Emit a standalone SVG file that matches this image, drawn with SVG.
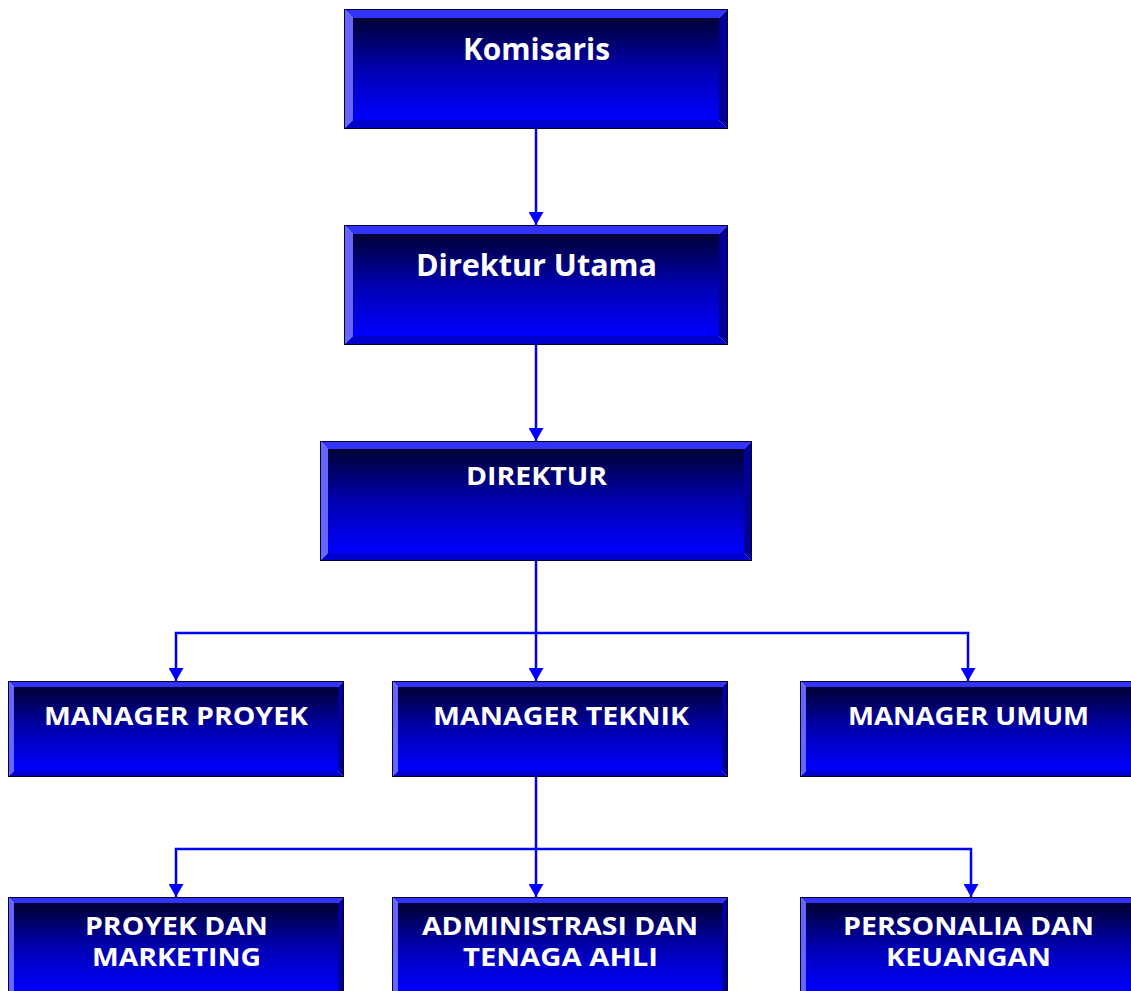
<svg xmlns="http://www.w3.org/2000/svg" width="1131" height="991" viewBox="0 0 1131 991">
<defs>
<linearGradient id="g" x1="0" y1="0" x2="0" y2="1">
<stop offset="0" stop-color="#000033"/>
<stop offset="0.5" stop-color="#0000b0"/>
<stop offset="1" stop-color="#0000ff"/>
</linearGradient>
<marker id="ah" markerWidth="14" markerHeight="15" refX="13" refY="7.5" orient="auto-start-reverse" markerUnits="userSpaceOnUse" viewBox="0 0 13 15">
<path d="M0,0 L13,7.5 L0,15 Z" fill="#0000ff"/>
</marker>
</defs>
<style>
.l{fill:#6666ff}.tp{fill:#3333ff}.r{fill:#000099}.b{fill:#0000cc}
.in{fill:url(#g)}
.o{fill:none;stroke:#000033;stroke-width:1}
.tx{font-family:"Open Sans",Lato,sans-serif;font-weight:bold;fill:#ffffff;text-anchor:middle}
.c{fill:none;stroke:#0000ff;stroke-width:2.5}
</style>
<rect width="1131" height="991" fill="#ffffff"/>
<g id="connectors">
<line class="c" x1="536" y1="129" x2="536" y2="225" marker-end="url(#ah)"/>
<line class="c" x1="536" y1="345" x2="536" y2="441" marker-end="url(#ah)"/>
<line class="c" x1="536" y1="561" x2="536" y2="681" marker-end="url(#ah)"/>
<polyline class="c" points="176,681 176,633 968,633 968,681" marker-start="url(#ah)" marker-end="url(#ah)"/>
<line class="c" x1="536" y1="777" x2="536" y2="897" marker-end="url(#ah)"/>
<polyline class="c" points="176,897 176,849 971,849 971,897" marker-start="url(#ah)" marker-end="url(#ah)"/>
</g>
<g id="komisaris">
<rect class="in" x="353" y="18" width="366" height="102"/>
<polygon class="tp" points="344,9 728,9 719,18 353,18"/>
<polygon class="l" points="344,9 353,18 353,120 344,129"/>
<polygon class="r" points="728,9 728,129 719,120 719,18"/>
<polygon class="b" points="344,129 728,129 719,120 353,120"/>
<rect class="o" x="344.5" y="9.5" width="383" height="119"/>
<text class="tx" x="536.5" y="60" font-size="30" textLength="147" lengthAdjust="spacingAndGlyphs">Komisaris</text>
</g>
<g id="direktur-utama">
<rect class="in" x="353" y="234" width="366" height="102"/>
<polygon class="tp" points="344,225 728,225 719,234 353,234"/>
<polygon class="l" points="344,225 353,234 353,336 344,345"/>
<polygon class="r" points="728,225 728,345 719,336 719,234"/>
<polygon class="b" points="344,345 728,345 719,336 353,336"/>
<rect class="o" x="344.5" y="225.5" width="383" height="119"/>
<text class="tx" x="536.5" y="276" font-size="30" textLength="241" lengthAdjust="spacingAndGlyphs">Direktur Utama</text>
</g>
<g id="direktur">
<rect class="in" x="328" y="449" width="416" height="104"/>
<polygon class="tp" points="320,441 752,441 744,449 328,449"/>
<polygon class="l" points="320,441 328,449 328,553 320,561"/>
<polygon class="r" points="752,441 752,561 744,553 744,449"/>
<polygon class="b" points="320,561 752,561 744,553 328,553"/>
<rect class="o" x="320.5" y="441.5" width="431" height="119"/>
<text class="tx" x="536.5" y="485" font-size="25" textLength="141" lengthAdjust="spacingAndGlyphs">DIREKTUR</text>
</g>
<g id="manager-proyek">
<rect class="in" x="14" y="687" width="324" height="84"/>
<polygon class="tp" points="8,681 344,681 338,687 14,687"/>
<polygon class="l" points="8,681 14,687 14,771 8,777"/>
<polygon class="r" points="344,681 344,777 338,771 338,687"/>
<polygon class="b" points="8,777 344,777 338,771 14,771"/>
<rect class="o" x="8.5" y="681.5" width="335" height="95"/>
<text class="tx" x="176" y="725" font-size="25" textLength="264" lengthAdjust="spacingAndGlyphs">MANAGER PROYEK</text>
</g>
<g id="manager-teknik">
<rect class="in" x="398" y="687" width="324" height="84"/>
<polygon class="tp" points="392,681 728,681 722,687 398,687"/>
<polygon class="l" points="392,681 398,687 398,771 392,777"/>
<polygon class="r" points="728,681 728,777 722,771 722,687"/>
<polygon class="b" points="392,777 728,777 722,771 398,771"/>
<rect class="o" x="392.5" y="681.5" width="335" height="95"/>
<text class="tx" x="561" y="725" font-size="25" textLength="256" lengthAdjust="spacingAndGlyphs">MANAGER TEKNIK</text>
</g>
<g id="manager-umum">
<rect class="in" x="806" y="687" width="330" height="84"/>
<polygon class="tp" points="800,681 1142,681 1136,687 806,687"/>
<polygon class="l" points="800,681 806,687 806,771 800,777"/>
<polygon class="b" points="800,777 1142,777 1136,771 806,771"/>
<rect class="o" x="800.5" y="681.5" width="341" height="95"/>
<text class="tx" x="968.5" y="725" font-size="25" textLength="241" lengthAdjust="spacingAndGlyphs">MANAGER UMUM</text>
</g>
<g id="proyek-marketing">
<rect class="in" x="14" y="903" width="324" height="88"/>
<polygon class="tp" points="8,897 344,897 338,903 14,903"/>
<polygon class="l" points="8,897 14,903 14,991 8,991"/>
<polygon class="r" points="344,897 344,991 338,991 338,903"/>
<rect class="o" x="8.5" y="897.5" width="335" height="100"/>
<text class="tx" x="176.5" y="935" font-size="25" textLength="183" lengthAdjust="spacingAndGlyphs">PROYEK DAN</text>
<text class="tx" x="176.5" y="966" font-size="25" textLength="169" lengthAdjust="spacingAndGlyphs">MARKETING</text>
</g>
<g id="administrasi">
<rect class="in" x="398" y="903" width="324" height="88"/>
<polygon class="tp" points="392,897 728,897 722,903 398,903"/>
<polygon class="l" points="392,897 398,903 398,991 392,991"/>
<polygon class="r" points="728,897 728,991 722,991 722,903"/>
<rect class="o" x="392.5" y="897.5" width="335" height="100"/>
<text class="tx" x="560" y="935" font-size="25" textLength="276" lengthAdjust="spacingAndGlyphs">ADMINISTRASI DAN</text>
<text class="tx" x="560.5" y="966" font-size="25" textLength="195" lengthAdjust="spacingAndGlyphs">TENAGA AHLI</text>
</g>
<g id="personalia">
<rect class="in" x="806" y="903" width="330" height="88"/>
<polygon class="tp" points="800,897 1142,897 1136,903 806,903"/>
<polygon class="l" points="800,897 806,903 806,991 800,991"/>
<rect class="o" x="800.5" y="897.5" width="341" height="100"/>
<text class="tx" x="968.5" y="935" font-size="25" textLength="251" lengthAdjust="spacingAndGlyphs">PERSONALIA DAN</text>
<text class="tx" x="968.5" y="966" font-size="25" textLength="165" lengthAdjust="spacingAndGlyphs">KEUANGAN</text>
</g>
</svg>
